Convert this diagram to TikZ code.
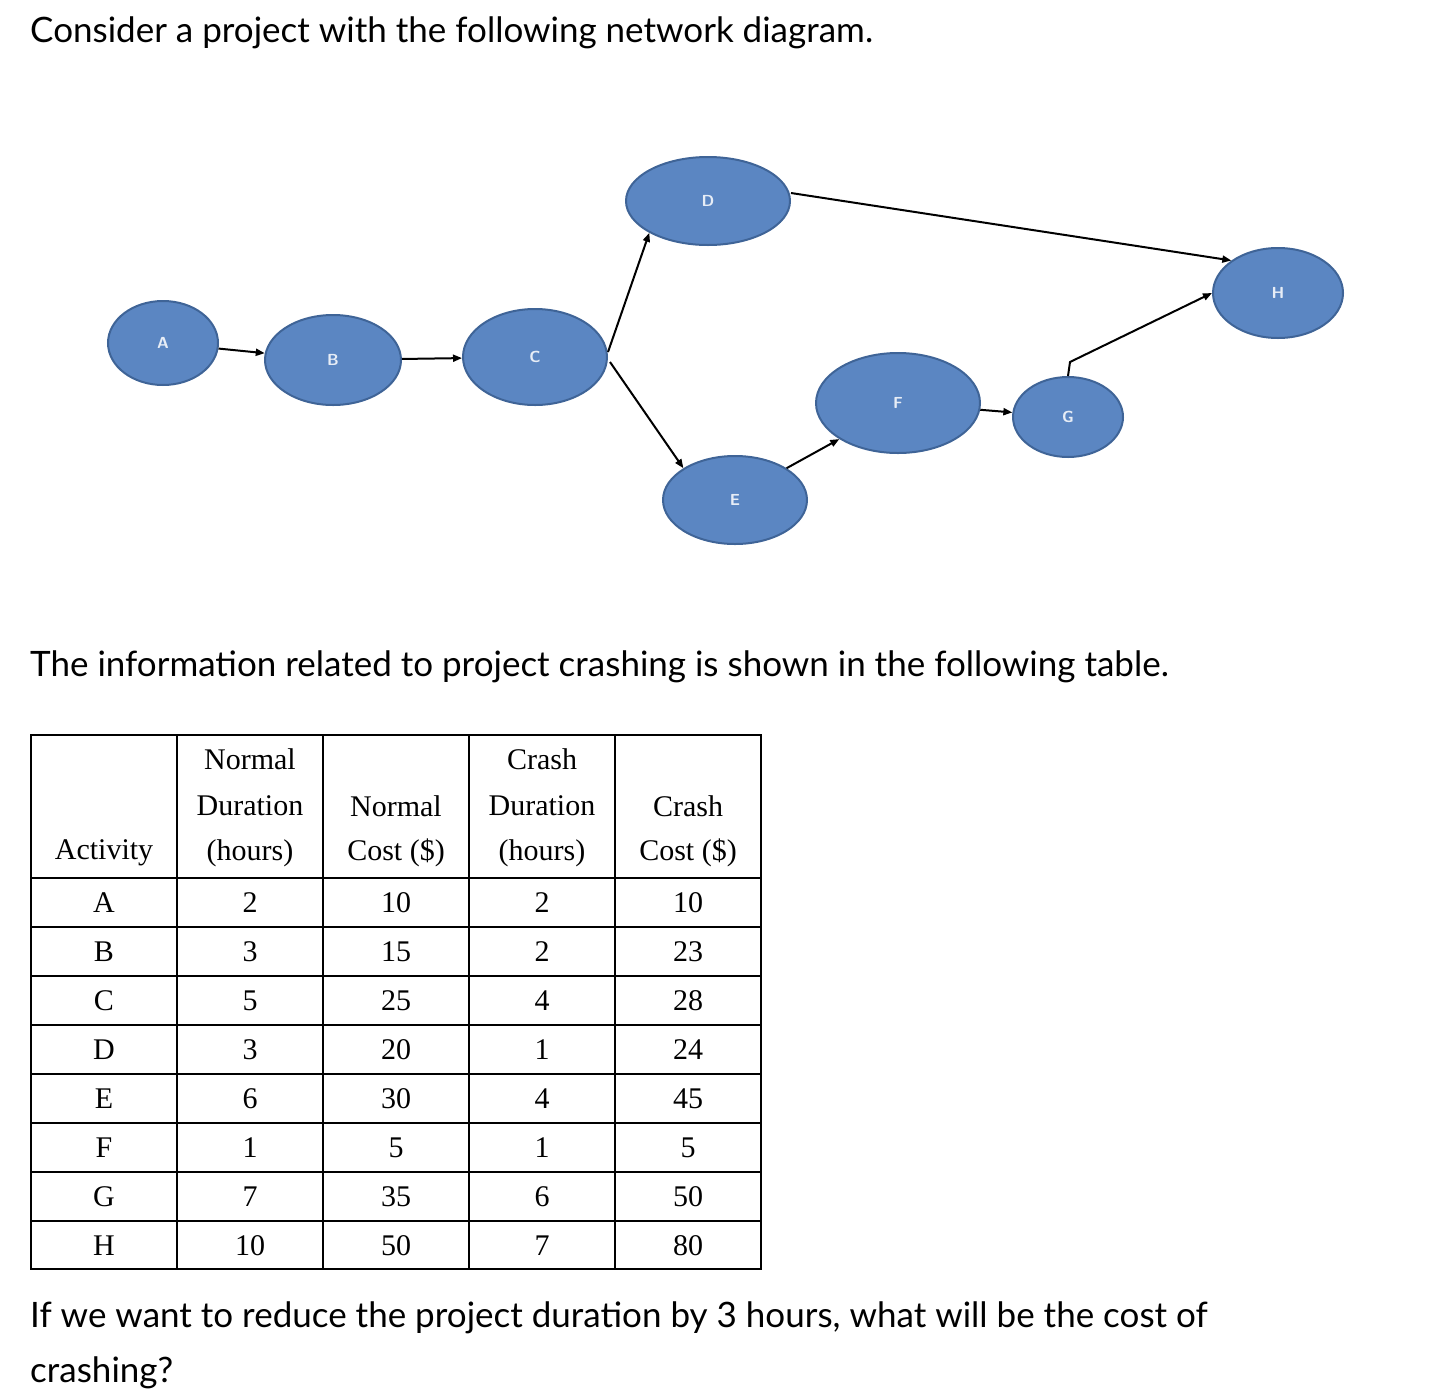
\documentclass[tikz,border=0pt]{standalone}
\usepackage{fontspec}
\setmainfont{Lato}
\newfontfamily\tabfont{Liberation Serif}
\usetikzlibrary{shapes.geometric,arrows.meta}
\definecolor{nodeblue}{HTML}{5B86C2}
\definecolor{nodeedge}{HTML}{3F6497}
\begin{document}
\begin{tikzpicture}[x=1pt,y=-1pt,
  ev/.style={ellipse,fill=nodeblue,draw=nodeedge,line width=2pt,inner sep=0pt,font=\sffamily\fontsize{16}{16}\selectfont\bfseries,text=white!85!nodeblue},
  arr/.style={-{Triangle[length=9pt,width=7pt]},line width=2pt},
  txt/.style={anchor=west,inner sep=0pt,font=\fontsize{35}{42}\selectfont},
  cell/.style={inner sep=0pt,font=\tabfont\fontsize{30}{36}\selectfont}]
\useasboundingbox (0,0) rectangle (1432,1398);
\node[txt] (t1) at (30,33) {Consider a project with the following network diagram.};
\node[ev,minimum width=110pt,minimum height=84pt] (A) at (163,343) {A};
\node[ev,minimum width=136pt,minimum height=90pt] (B) at (333,360) {B};
\node[ev,minimum width=144pt,minimum height=96pt] (C) at (535,357) {C};
\node[ev,minimum width=164pt,minimum height=88pt] (D) at (708,201) {D};
\node[ev,minimum width=144pt,minimum height=88pt] (E) at (735,500) {E};
\node[ev,minimum width=164pt,minimum height=100pt] (F) at (898,403) {F};
\node[ev,minimum width=110pt,minimum height=80pt] (G) at (1068,417) {G};
\node[ev,minimum width=130pt,minimum height=90pt] (H) at (1278,293) {H};
\coordinate (gh) at (1070,362);
\draw[arr] (A) -- (B);
\draw[arr] (B) -- (C);
\draw[arr] (C.east) ++(0,-5) -- (D.south west);
\draw[arr] (C.east) ++(2,5) -- (E.north west);
\draw[arr] (E.north east) -- (F.south west);
\draw[arr] (F) -- (G);
\draw[arr] (G.north) -- (gh) -- (H.west);
\draw[arr] (D.east) ++(0,-8) -- (H.north west);
\node[txt] (t2) at (30,667) {The information related to project crashing is shown in the following table.};
% table
\draw[line width=1.5pt] (31,735) rectangle (761,1269);
\foreach \x in {177,323,469,615} \draw[line width=1.5pt] (\x,735) -- (\x,1269);
\foreach \y in {878,927,976,1025,1074,1123,1172,1221} \draw[line width=1.5pt] (31,\y) -- (761,\y);
\node[cell] (h1) at (104,853) {Activity};
\node[cell] (h2a) at (250,759) {Normal};
\node[cell] (h2b) at (250,806) {Duration};
\node[cell] (h2c) at (250,853) {(hours)};
\node[cell] (h3a) at (396,806) {Normal};
\node[cell] (h3b) at (396,853) {Cost (\$)};
\node[cell] (h4a) at (542,759) {Crash};
\node[cell] (h4b) at (542,806) {Duration};
\node[cell] (h4c) at (542,853) {(hours)};
\node[cell] (h5a) at (688,806) {Crash};
\node[cell] (h5b) at (688,853) {Cost (\$)};
\foreach \a/\b/\c/\d/\e [count=\i] in {A/2/10/2/10,B/3/15/2/23,C/5/25/4/28,D/3/20/1/24,E/6/30/4/45,F/1/5/1/5,G/7/35/6/50,H/10/50/7/80}{
  \pgfmathsetmacro\yy{902.5+49*(\i-1)}
  \node[cell] (r\i a) at (104,\yy) {\a};
  \node[cell] (r\i b) at (250,\yy) {\b};
  \node[cell] (r\i c) at (396,\yy) {\c};
  \node[cell] (r\i d) at (542,\yy) {\d};
  \node[cell] (r\i e) at (688,\yy) {\e};
}
\node[txt] (t3) at (30,1318) {If we want to reduce the project duration by 3 hours, what will be the cost of};
\node[txt] (t4) at (30,1373) {crashing?};
\end{tikzpicture}
\end{document}
